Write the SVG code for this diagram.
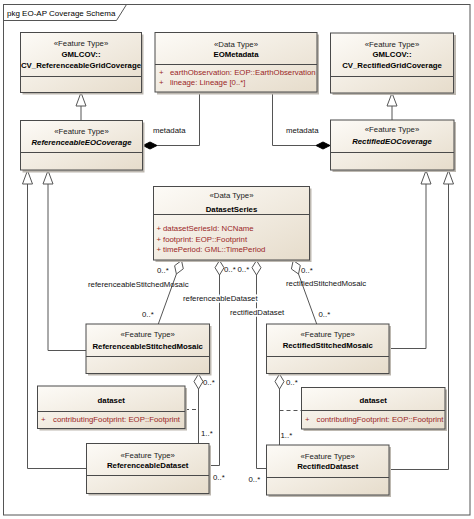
<svg xmlns="http://www.w3.org/2000/svg" width="474" height="519" viewBox="0 0 474 519">
<defs>
<linearGradient id="g" x1="0" y1="0" x2="1" y2="1">
<stop offset="0" stop-color="#fdfbf7"/>
<stop offset="1" stop-color="#e6dccb"/>
</linearGradient>
</defs>
<style>
text{font-family:"Liberation Sans",Arial,sans-serif;font-size:7.8px;fill:#000}
.st{fill:#222;text-anchor:middle}
.nm{font-weight:bold;text-anchor:middle}
.ab{font-weight:bold;font-style:italic;text-anchor:middle}
.at{fill:#9a2626}
.lb{fill:#111}
.halo{paint-order:stroke;stroke:#fff;stroke-width:3px}
.box{fill:url(#g);stroke:#4a4a4a;stroke-width:1}
.sh{fill:#bdb8b0}
.sep{stroke:#4a4a4a;stroke-width:1}
.ln{fill:none;stroke:#555;stroke-width:1}
.dash{fill:none;stroke:#555;stroke-width:1;stroke-dasharray:4,3}
.tri{fill:#fff;stroke:#555;stroke-width:1}
.dia{fill:#fff;stroke:#555;stroke-width:1}
.cdia{fill:#000;stroke:#000;stroke-width:1}
.frame{fill:none;stroke:#555;stroke-width:1}
</style>
<rect x="0" y="0" width="474" height="519" fill="#fff"/>
<g id="frame">
<rect class="frame" x="3.5" y="4.5" width="466.5" height="510.5"/>
<path class="frame" d="M3.5,20.5 H116.5 L126.5,4.5"/>
<text x="7" y="16" style="font-size:8px">pkg EO-AP Coverage Schema</text>
</g>

<g id="connectors">
<!-- generalizations top -->
<path class="ln" d="M81,106 V120.5"/>
<polygon class="tri" points="81,92.5 76,106 86,106"/>
<path class="ln" d="M392,106 V120"/>
<polygon class="tri" points="392,93 387,106 397,106"/>
<!-- metadata compositions -->
<path class="ln" d="M199.5,92 V145.5 H157"/>
<polygon class="cdia" points="143,145.5 150,142 157,145.5 150,149"/>
<path class="ln" d="M272.5,92 V145.5 H316"/>
<polygon class="cdia" points="316,145.5 323,142 330,145.5 323,149"/>
<text class="lb" x="153" y="133">metadata</text>
<text class="lb" x="286" y="133">metadata</text>
<!-- generalizations from RefEOCoverage -->
<path class="ln" d="M27.5,184 V468.5 H86.7"/>
<polygon class="tri" points="27.5,170.5 22.5,184 32.5,184"/>
<path class="ln" d="M48,184 V350.5 H86"/>
<polygon class="tri" points="48,170.5 43,184 53,184"/>
<!-- generalizations from RectEOCoverage -->
<path class="ln" d="M426,184 V348.5 H389"/>
<polygon class="tri" points="426,170.5 421,184 431,184"/>
<path class="ln" d="M448.5,184 V469.5 H389"/>
<polygon class="tri" points="448.5,170.5 443.5,184 453.5,184"/>
<!-- DatasetSeries aggregations -->
<path class="ln" d="M176.4,274 L158.3,324"/>
<polygon class="dia" points="181.5,260.5 183.3,268.8 176.4,274 174.6,265.7"/>
<path class="ln" d="M219.5,275 V465.5 H209.3"/>
<polygon class="dia" points="219.5,260.5 224,267.7 219.5,275 215,267.7"/>
<path class="ln" d="M256.5,275 V468.5 H266.7"/>
<polygon class="dia" points="256.5,260.5 261,267.7 256.5,275 252,267.7"/>
<path class="ln" d="M298.5,274 L316.7,324"/>
<polygon class="dia" points="293.2,260.5 300.3,265.4 298.5,274 291.4,269"/>
<!-- stitched mosaic to dataset aggregations -->
<path class="ln" d="M198.5,389 V443.3"/>
<polygon class="dia" points="198.5,374 203,381.5 198.5,389 194,381.5"/>
<path class="ln" d="M279.5,389 V445"/>
<polygon class="dia" points="279.5,374 284,381.5 279.5,389 275,381.5"/>
<path class="dash" d="M185,409.5 H198.5"/>
<path class="dash" d="M279.5,410.5 H301.7"/>
<!-- labels -->
<text class="lb" x="157" y="273">0..*</text>
<text class="lb" x="88" y="286.5">referenceableStitchedMosaic</text>
<text class="lb" x="224" y="272">0..*</text>
<text class="lb" x="237.5" y="272">0..*</text>
<text class="lb halo" x="183" y="301">referenceableDataset</text>
<text class="lb halo" x="230" y="315">rectifiedDataset</text>
<text class="lb" x="301" y="273">0..*</text>
<text class="lb" x="286" y="286">rectifiedStitchedMosaic</text>
<text class="lb" x="142" y="317">0..*</text>
<text class="lb" x="318.5" y="317">0..*</text>
<text class="lb" x="203" y="385">0..*</text>
<text class="lb" x="201" y="436">1..*</text>
<text class="lb" x="213" y="480">0..*</text>
<text class="lb" x="286" y="385">0..*</text>
<text class="lb" x="280.5" y="438">1..*</text>
<text class="lb" x="248.5" y="482">0..*</text>
</g>

<g id="CV_ReferenceableGridCoverage">
<rect class="sh" x="22.5" y="34.5" width="121" height="60"/>
<rect class="box" x="20.5" y="32.5" width="121" height="60"/>
<line class="sep" x1="20.5" y1="76.5" x2="141.5" y2="76.5"/>
<text class="st" x="81" y="46">«Feature Type»</text>
<text class="nm" x="81" y="57">GMLCOV::</text>
<text class="nm" x="81" y="68">CV_ReferenceableGridCoverage</text>
</g>

<g id="EOMetadata">
<rect class="sh" x="157" y="34.5" width="162" height="60"/>
<rect class="box" x="155" y="32.5" width="162" height="59.5"/>
<line class="sep" x1="155" y1="64.5" x2="317" y2="64.5"/>
<text class="st" x="236" y="47">«Data Type»</text>
<text class="nm" x="236" y="57">EOMetadata</text>
<text class="at" x="159" y="75">+</text>
<text class="at" x="170" y="75">earthObservation:  EOP::EarthObservation</text>
<text class="at" x="159" y="84.5">+</text>
<text class="at" x="170" y="84.5">lineage:  Lineage [0..*]</text>
</g>

<g id="CV_RectifiedGridCoverage">
<rect class="sh" x="332.5" y="35" width="123.5" height="60"/>
<rect class="box" x="330.5" y="33" width="123" height="60"/>
<line class="sep" x1="330.5" y1="76.5" x2="453.5" y2="76.5"/>
<text class="st" x="392" y="47">«Feature Type»</text>
<text class="nm" x="392" y="57">GMLCOV::</text>
<text class="nm" x="392" y="68">CV_RectifiedGridCoverage</text>
</g>

<g id="ReferenceableEOCoverage">
<rect class="sh" x="22.5" y="122.5" width="122" height="50"/>
<rect class="box" x="20.5" y="120.5" width="122" height="49.5"/>
<line class="sep" x1="20.5" y1="152.5" x2="142.5" y2="152.5"/>
<text class="st" x="81.5" y="133.5">«Feature Type»</text>
<text class="ab" x="81.5" y="145">ReferenceableEOCoverage</text>
</g>

<g id="RectifiedEOCoverage">
<rect class="sh" x="332.5" y="122" width="123.5" height="50"/>
<rect class="box" x="330.5" y="120" width="123.5" height="50"/>
<line class="sep" x1="330.5" y1="152.5" x2="454" y2="152.5"/>
<text class="st" x="392" y="132">«Feature Type»</text>
<text class="ab" x="392" y="144">RectifiedEOCoverage</text>
</g>

<g id="DatasetSeries">
<rect class="sh" x="155.5" y="188.5" width="156" height="73.5"/>
<rect class="box" x="153.5" y="186.5" width="156" height="73.5"/>
<line class="sep" x1="153.5" y1="214.5" x2="309.5" y2="214.5"/>
<text class="st" x="231.5" y="198">«Data Type»</text>
<text class="nm" x="231.5" y="211.5">DatasetSeries</text>
<text class="at" x="156.5" y="231">+</text>
<text class="at" x="163" y="231">datasetSeriesId:  NCName</text>
<text class="at" x="156.5" y="241.5">+</text>
<text class="at" x="163" y="241.5">footprint:  EOP::Footprint</text>
<text class="at" x="156.5" y="252">+</text>
<text class="at" x="163" y="252">timePeriod:  GML::TimePeriod</text>
</g>

<g id="ReferenceableStitchedMosaic">
<rect class="sh" x="88" y="326" width="123.5" height="49.5"/>
<rect class="box" x="86" y="324" width="123.5" height="49.5"/>
<line class="sep" x1="86" y1="356.5" x2="209.5" y2="356.5"/>
<text class="st" x="147.7" y="337">«Feature Type»</text>
<text class="nm" x="147.7" y="348.5">ReferenceableStitchedMosaic</text>
</g>

<g id="RectifiedStitchedMosaic">
<rect class="sh" x="268.5" y="326" width="122.5" height="49.5"/>
<rect class="box" x="266.5" y="324" width="122.5" height="49.5"/>
<line class="sep" x1="266.5" y1="356.5" x2="389" y2="356.5"/>
<text class="st" x="327.7" y="337">«Feature Type»</text>
<text class="nm" x="327.7" y="348">RectifiedStitchedMosaic</text>
</g>

<g id="dataset_referenceable">
<rect class="sh" x="39.5" y="388" width="147.5" height="42.5"/>
<rect class="box" x="37.5" y="386" width="147.5" height="42.5"/>
<line class="sep" x1="37.5" y1="411.5" x2="185" y2="411.5"/>
<text class="nm" x="111.2" y="403">dataset</text>
<text class="at" x="41" y="422">+</text>
<text class="at" x="53" y="422">contributingFootprint:  EOP::Footprint</text>
</g>

<g id="dataset_rectified">
<rect class="sh" x="303.5" y="389.5" width="143.5" height="41.5"/>
<rect class="box" x="301.5" y="387.5" width="143.5" height="41.5"/>
<line class="sep" x1="301.5" y1="410.5" x2="445" y2="410.5"/>
<text class="nm" x="373.2" y="403">dataset</text>
<text class="at" x="305" y="422">+</text>
<text class="at" x="316.5" y="422">contributingFootprint:  EOP::Footprint</text>
</g>

<g id="ReferenceableDataset">
<rect class="sh" x="88.5" y="445.5" width="122.5" height="50"/>
<rect class="box" x="86.5" y="443.5" width="122.5" height="50"/>
<line class="sep" x1="86.5" y1="475.5" x2="209" y2="475.5"/>
<text class="st" x="147.7" y="458">«Feature Type»</text>
<text class="nm" x="147.7" y="468">ReferenceableDataset</text>
</g>

<g id="RectifiedDataset">
<rect class="sh" x="268.5" y="447" width="122.5" height="50"/>
<rect class="box" x="266.5" y="445" width="122.5" height="50"/>
<line class="sep" x1="266.5" y1="477.5" x2="389" y2="477.5"/>
<text class="st" x="327.7" y="459">«Feature Type»</text>
<text class="nm" x="327.7" y="469">RectifiedDataset</text>
</g>
</svg>
